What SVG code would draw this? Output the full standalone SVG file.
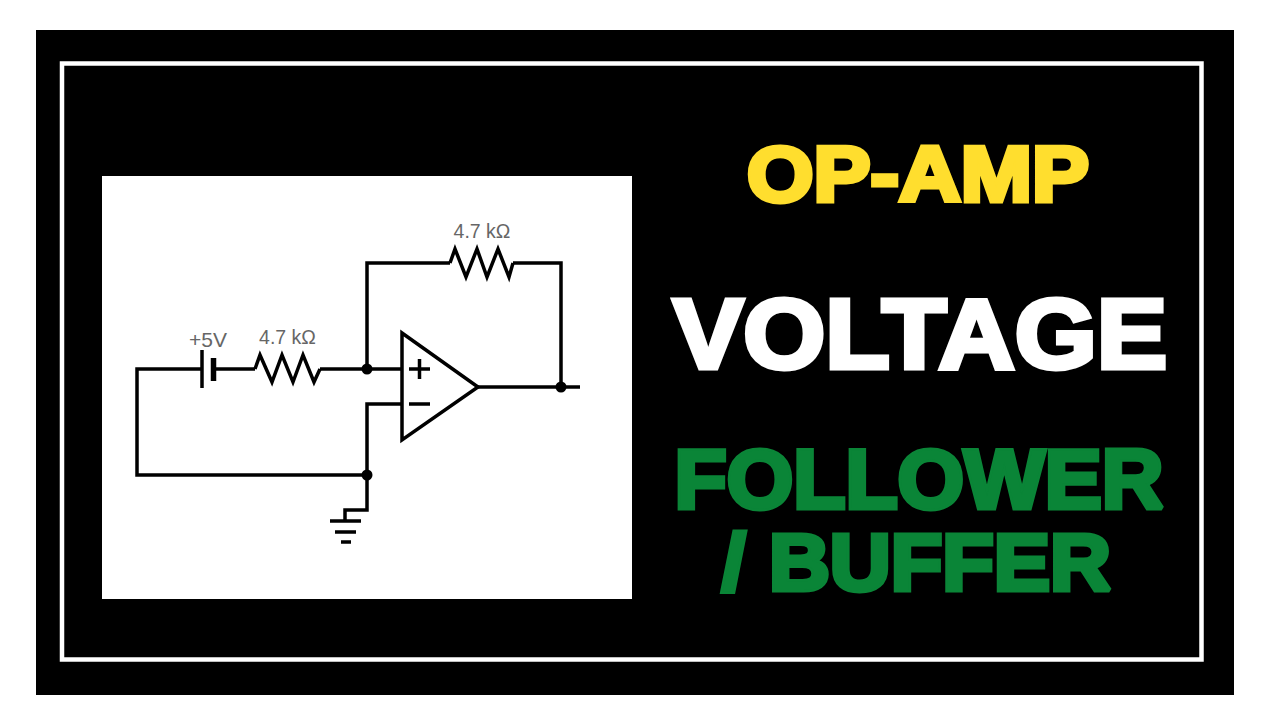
<svg xmlns="http://www.w3.org/2000/svg" width="1280" height="720" viewBox="0 0 1280 720">
<style>
.w{fill:none;stroke:#000;stroke-width:3.500;stroke-linejoin:miter}
.d{fill:#000}
.l{font-family:"Liberation Sans",Arial,sans-serif;font-size:19.500px;fill:#666;text-anchor:middle}
.v{font-size:21px}
.t{font-family:"Liberation Sans",Arial,sans-serif;font-weight:700;stroke-linejoin:miter;stroke-miterlimit:2;stroke-width:5px;paint-order:stroke}
</style>
<rect width="1280" height="720" fill="#fff"/>
<rect x="36" y="30" width="1198" height="665" fill="#000"/>
<rect id="frame" x="62" y="63.500" width="1139.500" height="596" fill="none" stroke="#fff" stroke-width="4.500"/>
<rect id="panel" x="102" y="176" width="530" height="423" fill="#fff"/>
<g id="connectors">
<path class="w" d="M202 369H137V475H367"/>
<path class="w" d="M213 369H255"/>
<path class="w" d="M320 369H402"/>
<path class="w" d="M367 369V263H450"/>
<path class="w" d="M513 263H561V387"/>
<path class="w" d="M478 387H580"/>
<path class="w" d="M402 404H367V510H345V521"/>
</g>
<g id="battery">
<path class="w" d="M202 350V388"/>
<path fill="none" stroke="#000" stroke-width="5.500" d="M213.500 358V381"/>
<text class="l v" x="208" y="347">+5V</text>
</g>
<g id="r1">
<path class="w" d="M255 369L260 355L272 382L282 355L293 382L303 355L314 382L320 369"/>
<text class="l" x="287.500" y="344">4.7 kΩ</text>
</g>
<g id="r2">
<path class="w" d="M450 263L455 249L466 277L477 249L487 277L498 249L509 277L513 263"/>
<text class="l" x="482" y="238">4.7 kΩ</text>
</g>
<g id="opamp">
<path class="w" d="M402 333L478 387L402 440Z"/>
<path class="w" d="M409 369H430M419.500 359V379M409 404H430"/>
</g>
<g id="junctions">
<circle class="d" cx="367" cy="369" r="5.500"/>
<circle class="d" cx="561" cy="387" r="5.500"/>
<circle class="d" cx="367" cy="475" r="5.500"/>
</g>
<g id="ground">
<path class="w" d="M330 521H361M335 532H356M341 542H351"/>
</g>
<g id="titles">
<text class="t" x="747" y="200.500" font-size="78" fill="#ffde2e" stroke="#ffde2e" textLength="342" lengthAdjust="spacingAndGlyphs">OP-AMP</text>
<text class="t" x="673" y="367.500" font-size="99" fill="#fff" stroke="#fff" textLength="494" lengthAdjust="spacingAndGlyphs">VOLTAGE</text>
<text class="t" x="674.500" y="507.500" font-size="83" fill="#0a8537" stroke="#0a8537" textLength="489" lengthAdjust="spacingAndGlyphs">FOLLOWER</text>
<text class="t" x="722" y="589.500" font-size="80" fill="#0a8537" stroke="#0a8537" textLength="389" lengthAdjust="spacingAndGlyphs">/ BUFFER</text>
</g>
</svg>
